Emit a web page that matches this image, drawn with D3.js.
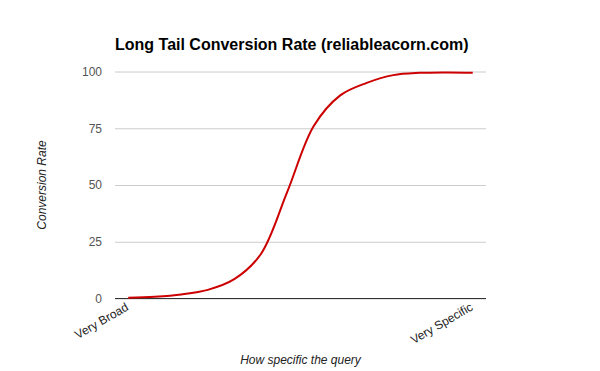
<!DOCTYPE html>
<html>
<head>
<meta charset="utf-8">
<script src="https://cdn.jsdelivr.net/npm/d3@7"></script>
<style>
  body { margin: 0; background: #fff; }
  text { font-family: "Liberation Sans", Arial, sans-serif; }
</style>
</head>
<body>
<svg id="chart" width="600" height="371"></svg>
<script>
// Chart data
const categories = ["Very Broad", "", "", "", "", "", "", "", "", "", "", "", "", "Very Specific"];
const conversion = [0.3, 0.8, 1.8, 3.8, 8.5, 19.5, 47, 76, 89.5, 95, 98.4, 99.4, 99.6, 99.5];
const yTicks = [0, 25, 50, 75, 100];

const svg = d3.select("#chart");

// Plot area
const plot = { left: 115, right: 486, top: 71.5, bottom: 298.5 };

// X scale - one band per category, point in the middle
const x = d3.scaleBand()
  .domain(d3.range(categories.length))
  .range([plot.left, plot.right]);

const cx = i => x(i) + x.bandwidth() / 2;

// Y scale
const y = d3.scaleLinear()
  .domain([0, 100])
  .range([plot.bottom, plot.top]);

// Title
svg.append("text")
  .attr("x", plot.left)
  .attr("y", 50)
  .attr("font-size", 16)
  .attr("font-weight", "bold")
  .attr("fill", "#000")
  .text("Long Tail Conversion Rate (reliableacorn.com)");

// Gridlines + y labels
const yAxis = svg.append("g")
  .attr("transform", `translate(${plot.left},0)`)
  .call(d3.axisLeft(y).tickValues(yTicks).tickSize(-(plot.right - plot.left)).tickPadding(13));

yAxis.select(".domain").remove();
yAxis.selectAll(".tick line").attr("stroke", "#ccc");
yAxis.selectAll(".tick text")
  .attr("font-size", 12)
  .attr("fill", "#555")
  .style("font-family", "Liberation Sans, Arial, sans-serif");

// Baseline
svg.append("line")
  .attr("x1", plot.left).attr("x2", plot.right)
  .attr("y1", y(0)).attr("y2", y(0))
  .attr("stroke", "#333")
  .attr("stroke-width", 1);

// X labels (rotated)
categories.forEach((c, i) => {
  if (!c) return;
  svg.append("text")
    .attr("transform", `translate(${cx(i) + 1},${plot.bottom + 11}) rotate(-30)`)
    .attr("text-anchor", "end")
    .attr("font-size", 12)
    .attr("fill", "#222")
    .text(c);
});

// Axis titles
svg.append("text")
  .attr("x", (plot.left + plot.right) / 2)
  .attr("y", 364)
  .attr("text-anchor", "middle")
  .attr("font-size", 12)
  .attr("font-style", "italic")
  .attr("fill", "#222")
  .text("How specific the query");

svg.append("text")
  .attr("transform", `translate(46,${(plot.top + plot.bottom) / 2}) rotate(-90)`)
  .attr("text-anchor", "middle")
  .attr("font-size", 12)
  .attr("font-style", "italic")
  .attr("fill", "#222")
  .text("Conversion Rate");

// Line
const line = d3.line()
  .x((d, i) => cx(i))
  .y(d => y(d))
  .curve(d3.curveCatmullRom);

svg.append("path")
  .datum(conversion)
  .attr("fill", "none")
  .attr("stroke", "#cc0000")
  .attr("stroke-width", 2)
  .attr("d", line);
</script>
</body>
</html>
